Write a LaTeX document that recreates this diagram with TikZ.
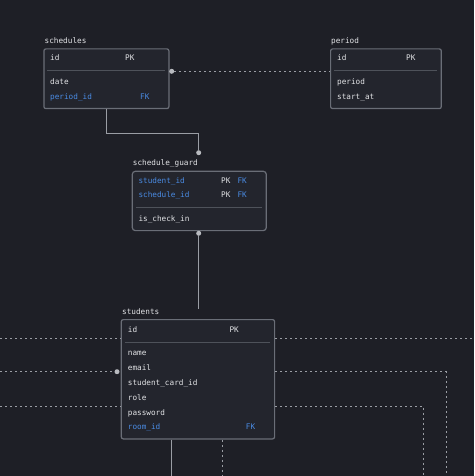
\documentclass[tikz,border=0pt]{standalone}
\usepackage{fontspec}
\usepackage{xcolor}
\newfontfamily\erfont{DejaVu Sans Mono}
\usetikzlibrary{arrows}
\definecolor{bg}{HTML}{1E1F26}
\definecolor{boxfill}{HTML}{23252D}
\definecolor{boxline}{HTML}{6A6E77}
\definecolor{sepline}{HTML}{4E525A}
\definecolor{txt}{HTML}{E2E3E6}
\definecolor{fkblue}{HTML}{4A8BE3}
\definecolor{link}{HTML}{9A9DA4}

\begin{document}
\begin{tikzpicture}[x=1pt,y=-1pt,
  tbl/.style={draw=boxline,fill=boxfill,line width=1.2pt,rounded corners=2pt,anchor=north west,inner sep=0pt},
  fld/.style={anchor=west,inner sep=0pt,text=txt,text height=5.5pt,text depth=1.5pt,font=\erfont\fontsize{7.7}{9}\selectfont},
  fk/.style={fld,text=fkblue},
  sepl/.style={draw=sepline,line width=1pt},
  rel/.style={draw=link,line width=1pt},
  opt/.style={rel,dash pattern=on 2pt off 3pt},
  dot/.style={circle,fill=link!70!white,inner sep=0pt,minimum size=5pt}]
\useasboundingbox[fill=bg] (0,0) rectangle (474,476);

%%%TABLES
\node[tbl,minimum width=125pt,minimum height=59.7pt] (sched) at (43.3,48.3) {};
\node[tbl,minimum width=110.7pt,minimum height=59.7pt] (period) at (330,48.3) {};
\node[tbl,minimum width=134pt,minimum height=59.3pt,rounded corners=3pt] (guard) at (131.7,170.7) {};
\node[tbl,minimum width=153.3pt,minimum height=119.3pt] (students) at (120.7,319) {};

%%%SCHEDULES
\node[fld] (sched-t) at (44.5,41.5) {schedules};
\node[fld] (sched-id) at (50,59) {id};
\node[fld] (sched-pk) at (125,59) {PK};
\draw[sepl] (47,70.7) -- (164.5,70.7);
\node[fld] (sched-date) at (50,83) {date};
\node[fk] (sched-per) at (50,97.5) {period\_id};
\node[fk] (sched-fk) at (140,97.5) {FK};

%%%PERIOD
\node[fld] (period-t) at (331,41.5) {period};
\node[fld] (period-id) at (337,59) {id};
\node[fld] (period-pk) at (406,59) {PK};
\draw[sepl] (334,70.7) -- (437,70.7);
\node[fld] (period-per) at (337,82.7) {period};
\node[fld] (period-st) at (337,97.7) {start\_at};

%%%SCHEDULE_GUARD
\node[fld] (guard-t) at (132.7,163) {schedule\_guard};
\node[fk] (guard-stu) at (138.3,181.3) {student\_id};
\node[fld] (guard-pk1) at (221,181.3) {PK};
\node[fk] (guard-fk1) at (237.3,181.3) {FK};
\node[fk] (guard-sch) at (138.3,195.3) {schedule\_id};
\node[fld] (guard-pk2) at (221,195.3) {PK};
\node[fk] (guard-fk2) at (237.3,195.3) {FK};
\draw[sepl] (135.5,207.3) -- (262,207.3);
\node[fld] (guard-chk) at (138.3,219.3) {is\_check\_in};

%%%STUDENTS
\node[fld] (stu-t) at (122,312.3) {students};
\node[fld] (stu-id) at (127.7,330) {id};
\node[fld] (stu-pk) at (229.3,330) {PK};
\draw[sepl] (124.5,342) -- (270,342);
\node[fld] (stu-name) at (127.7,353.3) {name};
\node[fld] (stu-mail) at (127.7,368.3) {email};
\node[fld] (stu-card) at (127.7,383.3) {student\_card\_id};
\node[fld] (stu-role) at (127.7,398.3) {role};
\node[fld] (stu-pw) at (127.7,413) {password};
\node[fk] (stu-room) at (127.7,427.7) {room\_id};
\node[fk] (stu-fk) at (245.7,427.7) {FK};

%%%RELATIONS
\coordinate (L1) at (0,338.7);
\coordinate (R1) at (474,338.7);
\coordinate (L2) at (0,371.7);
\coordinate (R2) at (446,476);
\coordinate (L3) at (0,406);
\coordinate (R3) at (423.7,476);
\coordinate (B1) at (171.7,476);
\coordinate (B2) at (222.7,476);
\node[dot] (sdot) at (171.7,71.3) {};
\node[dot] (gtop) at (198.7,152.7) {};
\node[dot] (gbot) at (198.7,233.3) {};
\node[dot] (ldot) at (117,371.7) {};

\draw[opt] (sdot) -- (period.west |- sdot);
\draw[rel] (sched.south) -- ++(0,24.3) -| (gtop);
\draw[rel] (gbot) -- (gbot |- stu-t.north);
\draw[opt] (L1) -- (L1 -| students.west);
\draw[opt] (students.east |- L1) -- (R1);
\draw[opt] (L2) -- (ldot);
\draw[opt] (students.east |- L2) -| (R2);
\draw[opt] (L3) -- (L3 -| students.west);
\draw[opt] (students.east |- L3) -| (R3);
\draw[rel] (B1 |- students.south) -- (B1);
\draw[opt] (B2 |- students.south) -- (B2);
\end{tikzpicture}
\end{document}
